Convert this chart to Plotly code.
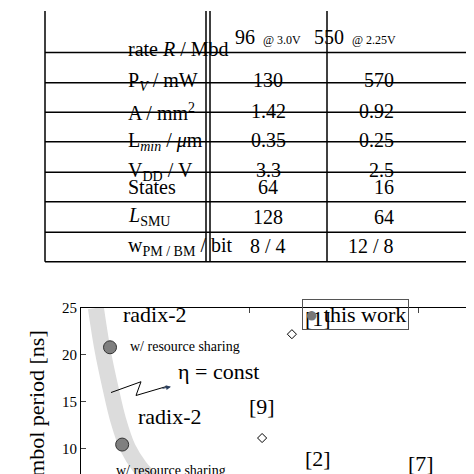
import plotly.graph_objects as go

W = H = 474
def px(x): return x / W
def py(y): return 1 - y / H

# table data
row_labels = ["P<sub><i>V</i></sub> / mW", "A / mm<sup>2</sup>", "L<sub><i>min</i></sub> / <i>μ</i>m",
              "V<sub>DD</sub> / V", "States", "<i>L</i><sub>SMU</sub>", "w<sub>PM / BM</sub> / bit"]
col_a = ["130", "1.42", "0.35", "3.3", "64", "128", "8 / 4"]
col_b = ["570", "0.92", "0.25", "2.5", "16", "64", "12 / 8"]

# chart data
work_x = [7.4, 10.5]
work_y = [20.8, 10.4]
ref_x = [53.8, 46.2]
ref_y = [22.2, 11.1]
ref2_x = [64.5]
ref2_y = [6.5]
eta_x = [3.8, 5.5, 7.5, 9.5, 12.0, 15.0, 18.5]
eta_y = [25.0, 20.5, 16.5, 13.0, 10.0, 8.0, 6.4]

F = "Liberation Serif, Times New Roman, serif"
fig = go.Figure()
fig.add_trace(go.Scatter(x=eta_x, y=eta_y, mode="lines", line=dict(color="#dcdcdc", width=16, shape="spline"),
                         showlegend=False, hoverinfo="skip"))
fig.add_trace(go.Scatter(x=work_x, y=work_y, mode="markers",
                         marker=dict(size=13, color="#7f7f7f", line=dict(color="#333", width=1)), showlegend=False))
fig.add_trace(go.Scatter(x=ref_x, y=ref_y, mode="markers",
                         marker=dict(symbol="diamond-open", size=7, color="black", line=dict(width=1)), showlegend=False))
fig.add_trace(go.Scatter(x=ref2_x, y=ref2_y, mode="markers",
                         marker=dict(symbol="square", size=8, color="black"), showlegend=False))

shapes = []
L = dict(color="black", width=1.5)
for y in [37, 68, 98, 128, 159, 189, 220, 250]:
    shapes.append(dict(type="line", xref="paper", yref="paper", x0=px(37), x1=px(459), y0=py(y), y1=py(y), line=L))
for x in [37, 198, 202, 319, 459]:
    shapes.append(dict(type="line", xref="paper", yref="paper", x0=px(x), x1=px(x), y0=py(-5), y1=py(250), line=L))
# squiggle arrow
shapes.append(dict(type="path", xref="paper", yref="paper",
                   path=f"M {px(103)},{py(383)} L {px(133)},{py(372)} L {px(128)},{py(386)} L {px(158)},{py(377)}",
                   line=dict(color="black", width=1)))

ann = []
def T(x, y, t, s=20, **k):
    d = dict(x=px(x), y=py(y), xref="paper", yref="paper", text=t, showarrow=False,
             font=dict(family=F, size=s, color="black"))
    d.update(k)
    ann.append(d)

T(118, 20, "rate <i>R</i> / Mbd")
T(260, 8, "96 <span style='font-size:12px'> @ 3.0V</span>")
T(390, 8, "550 <span style='font-size:12px'> @ 2.25V</span>")
centers = [52, 83, 113, 143, 174, 204, 234]
for i, c in enumerate(centers):
    T(118, c, row_labels[i]); T(260, c, col_a[i]); T(388, c, col_b[i])

T(113, 318, "radix-2", 22)
T(177, 346, "w/ resource sharing", 14)
T(210, 376, "η = const", 22)
T(128, 422, "radix-2", 22)
T(163, 472, "w/ resource sharing", 14)
T(310, 322, "[1]", 22)
T(254, 412, "[9]", 22)
T(325, 465, "[2]", 22)
T(428, 470, "[7]", 22)
T(401, 319, "<span style='color:#777'>●</span> this work", 22, bordercolor="#555", borderwidth=1, borderpad=2)
T(14, 318, "Symbol period [ns]", 22, textangle=-90, yanchor="top")
ann.append(dict(x=px(163), y=py(377), ax=-10, ay=2, xref="paper", yref="paper",
                text="", showarrow=True, arrowhead=2, arrowsize=1, arrowwidth=1))

fig.update_layout(width=W, height=H, margin=dict(l=0, r=0, t=0, b=0), plot_bgcolor="white", paper_bgcolor="white",
                  shapes=shapes, annotations=ann,
                  xaxis=dict(domain=[px(73), px(465)], range=[0, 100], showticklabels=False, ticks="inside",
                             tickvals=[0, 43, 86], showgrid=False, zeroline=False, showline=True, mirror="ticks",
                             linecolor="black"),
                  yaxis=dict(domain=[0, py(297)], range=[6.4, 25], tickvals=[10, 15, 20, 25], ticks="inside",
                             showgrid=False, zeroline=False, showline=True, mirror="ticks", linecolor="black",
                             tickfont=dict(family=F, size=15, color="black")))
fig.write_html("out.html")
